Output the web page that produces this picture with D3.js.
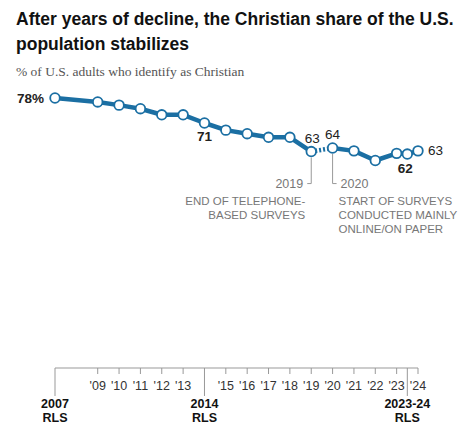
<!DOCTYPE html>
<html><head><meta charset="utf-8">
<script src="https://cdn.jsdelivr.net/npm/d3@7"></script>
<style>
body{margin:0;background:#fff;font-family:"Liberation Sans",Arial,sans-serif}
</style></head><body>
<script>
const years = [2007,2009,2010,2011,2012,2013,2014,2015,2016,2017,2018,2019,2020,2021,2022,2023,2023.5,2024];
const shares = [78,76.9,76,75,73.3,73.3,71,69,68,67,67,63,64,63.2,60.5,62.5,62.3,63.2];
const smallTicks = [2009,2010,2011,2012,2013,2015,2016,2017,2018,2019,2020,2021,2022,2023,2024];
const rlsTicks = [[2007,"2007"],[2014,"2014"],[2023.5,"2023-24"]];

const W = 474, H = 428, blue = "#1b6fa3";
const svg = d3.select("body").append("svg").attr("width", W).attr("height", H);
const x = d3.scaleLinear().domain([2007,2024]).range([55,418]);
const y = d3.scaleLinear().domain([78,71]).range([98,123]);

svg.append("text").attr("x",16).attr("y",25).attr("font-size",17.5).attr("font-weight","bold").attr("fill","#111")
  .text("After years of decline, the Christian share of the U.S.");
svg.append("text").attr("x",16).attr("y",50).attr("font-size",17.5).attr("font-weight","bold").attr("fill","#111")
  .text("population stabilizes");
svg.append("text").attr("x",16).attr("y",76).attr("font-size",13.5).attr("fill","#555")
  .attr("font-family","Liberation Serif,Georgia,serif").text("% of U.S. adults who identify as Christian");

// axis
const ay = 368;
svg.append("line").attr("x1",x(2007)).attr("x2",x(2024)).attr("y1",ay).attr("y2",ay).attr("stroke","#999");
smallTicks.forEach(t => {
  svg.append("line").attr("x1",x(t)).attr("x2",x(t)).attr("y1",ay).attr("y2",ay+6).attr("stroke","#999");
  svg.append("text").attr("x",x(t)).attr("y",ay+22).attr("text-anchor","middle").attr("font-size",12.5).attr("fill","#333")
    .text("'" + String(t).slice(2));
});
rlsTicks.forEach(([t,l]) => {
  svg.append("line").attr("x1",x(t)).attr("x2",x(t)).attr("y1",ay).attr("y2",ay+28).attr("stroke","#999");
  const tx = svg.append("text").attr("x",x(t)).attr("y",ay+40).attr("text-anchor","middle").attr("font-size",12.5).attr("font-weight","bold").attr("fill","#111");
  tx.append("tspan").attr("x",x(t)).text(l);
  tx.append("tspan").attr("x",x(t)).attr("dy",14).text("RLS");
});

const pts = years.map((d,i) => [d, shares[i]]);
const line = d3.line().x(d => x(d[0])).y(d => y(d[1]));
svg.append("path").datum(pts.slice(0,12)).attr("d",line).attr("fill","none").attr("stroke",blue).attr("stroke-width",4.5).attr("stroke-linejoin","round");
svg.append("path").datum(pts.slice(11,13)).attr("d",line).attr("fill","none").attr("stroke",blue).attr("stroke-width",4.5).attr("stroke-dasharray","2,2");
svg.append("path").datum(pts.slice(12)).attr("d",line).attr("fill","none").attr("stroke",blue).attr("stroke-width",4.5).attr("stroke-linejoin","round");

// callout leaders
const g = "#999";
svg.append("path").attr("d",`M${x(2019)},${y(63)+6}V${y(63)+32}h-4`).attr("fill","none").attr("stroke",g);
svg.append("path").attr("d",`M${x(2020)},${y(64)+6}V${y(63)+32}h4`).attr("fill","none").attr("stroke",g);

svg.selectAll("circle.pt").data(pts).join("circle").attr("class","pt")
  .attr("cx",d => x(d[0])).attr("cy",d => y(d[1])).attr("r",4.8)
  .attr("fill","#fff").attr("stroke",blue).attr("stroke-width",1.8);

function lab(t, xx, yy, anchor, bold, size, col){
  svg.append("text").attr("x",xx).attr("y",yy).attr("text-anchor",anchor).attr("font-size",size||13.5)
    .attr("font-weight",bold?"bold":"normal").attr("fill",col||"#222").text(t);
}
lab("78%", x(2007)-11, y(78)+4.5, "end", true);
lab("71", x(2014), y(71)+18, "middle", true);
lab("63", x(2019)+1, y(63)-9, "middle", false);
lab("64", x(2020), y(64)-9, "middle", false);
lab("62", x(2023.5)-2, y(62.3)+19, "middle", true);
lab("63", x(2024)+10, y(63.2)+4.5, "start", false);

const c = "#777";
lab("2019", x(2019)-8, y(63)+36, "end", false, 12.5, c);
lab("END OF TELEPHONE-", x(2019)-6, y(63)+53, "end", false, 11.5, c);
lab("BASED SURVEYS", x(2019)-6, y(63)+67, "end", false, 11.5, c);
lab("2020", x(2020)+8, y(63)+36, "start", false, 12.5, c);
lab("START OF SURVEYS", x(2020)+6, y(63)+53, "start", false, 11.5, c);
lab("CONDUCTED MAINLY", x(2020)+6, y(63)+67, "start", false, 11.5, c);
lab("ONLINE/ON PAPER", x(2020)+6, y(63)+81, "start", false, 11.5, c);
</script></body></html>
